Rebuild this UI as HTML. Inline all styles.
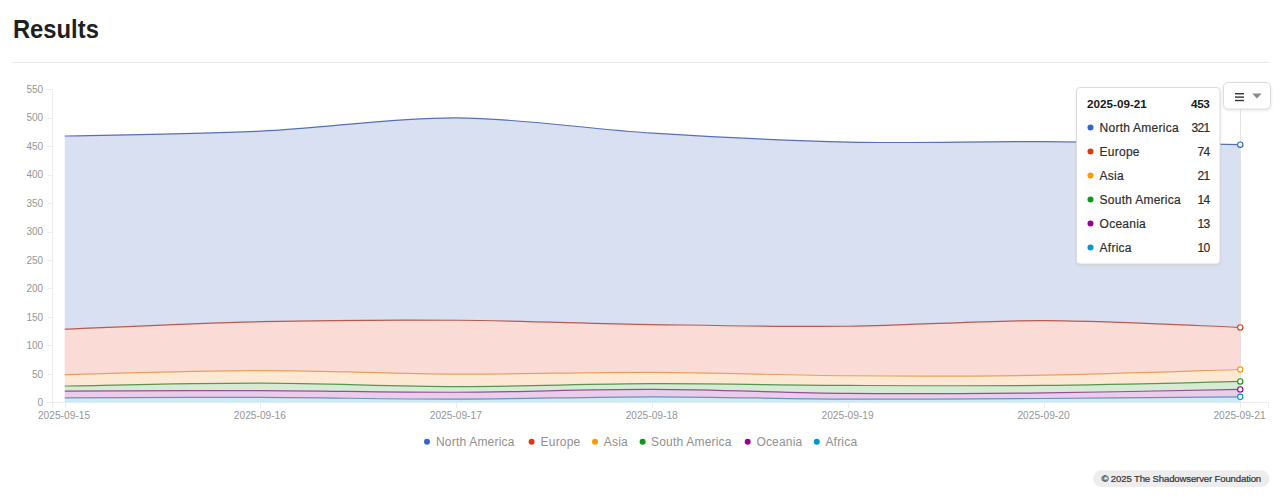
<!DOCTYPE html>
<html lang="en">
<head>
<meta charset="utf-8">
<title>Results</title>
<style>
html,body{margin:0;padding:0;background:#fff;}
body{width:1288px;height:499px;overflow:hidden;position:relative;font-family:"Liberation Sans",Arial,sans-serif;}
svg{position:absolute;left:0;top:0;display:block;}
.yl{font-size:10px;fill:#969696;text-anchor:end;}
.xl{font-size:10.2px;fill:#969696;text-anchor:middle;}
.lg{font-size:12px;fill:#909090;letter-spacing:0.2px;}
.tt{font-size:12px;fill:#2e2e2e;stroke:#2e2e2e;stroke-width:0.2px;letter-spacing:0.25px;}
.tv{font-size:12px;fill:#2e2e2e;stroke:#2e2e2e;stroke-width:0.2px;text-anchor:end;letter-spacing:-0.6px;}
.th{font-size:11.7px;fill:#1a1a1a;font-weight:bold;}
</style>
</head>
<body>
<svg width="1288" height="499" viewBox="0 0 1288 499">
<text x="12.9" y="38" font-size="25" font-weight="bold" fill="#1f1f1f" textLength="86" lengthAdjust="spacingAndGlyphs">Results</text>
<rect x="12" y="62" width="1257" height="1" fill="#ebebeb"/>
<line x1="52.5" y1="89" x2="52.5" y2="408" stroke="#ededed" stroke-width="1"/>
<line x1="47.5" y1="402.5" x2="52.5" y2="402.5" stroke="#ededed"/>
<text x="43.1" y="405.95" class="yl">0</text>
<line x1="47.5" y1="374.5" x2="52.5" y2="374.5" stroke="#ededed"/>
<text x="43.1" y="377.50" class="yl">50</text>
<line x1="47.5" y1="345.5" x2="52.5" y2="345.5" stroke="#ededed"/>
<text x="43.1" y="349.04" class="yl">100</text>
<line x1="47.5" y1="317.5" x2="52.5" y2="317.5" stroke="#ededed"/>
<text x="43.1" y="320.59" class="yl">150</text>
<line x1="47.5" y1="288.5" x2="52.5" y2="288.5" stroke="#ededed"/>
<text x="43.1" y="292.13" class="yl">200</text>
<line x1="47.5" y1="260.5" x2="52.5" y2="260.5" stroke="#ededed"/>
<text x="43.1" y="263.68" class="yl">250</text>
<line x1="47.5" y1="232.5" x2="52.5" y2="232.5" stroke="#ededed"/>
<text x="43.1" y="235.22" class="yl">300</text>
<line x1="47.5" y1="203.5" x2="52.5" y2="203.5" stroke="#ededed"/>
<text x="43.1" y="206.77" class="yl">350</text>
<line x1="47.5" y1="175.5" x2="52.5" y2="175.5" stroke="#ededed"/>
<text x="43.1" y="178.31" class="yl">400</text>
<line x1="47.5" y1="146.5" x2="52.5" y2="146.5" stroke="#ededed"/>
<text x="43.1" y="149.86" class="yl">450</text>
<line x1="47.5" y1="118.5" x2="52.5" y2="118.5" stroke="#ededed"/>
<text x="43.1" y="121.40" class="yl">500</text>
<line x1="47.5" y1="89.5" x2="52.5" y2="89.5" stroke="#ededed"/>
<text x="43.1" y="92.95" class="yl">550</text>
<line x1="52.5" y1="402.5" x2="1268.5" y2="402.5" stroke="#ededed"/>
<line x1="52.5" y1="402.5" x2="52.5" y2="408" stroke="#ededed"/>
<line x1="65.5" y1="402.5" x2="65.5" y2="408" stroke="#ededed"/>
<line x1="260.5" y1="402.5" x2="260.5" y2="408" stroke="#ededed"/>
<line x1="456.5" y1="402.5" x2="456.5" y2="408" stroke="#ededed"/>
<line x1="652.5" y1="402.5" x2="652.5" y2="408" stroke="#ededed"/>
<line x1="848.5" y1="402.5" x2="848.5" y2="408" stroke="#ededed"/>
<line x1="1044.5" y1="402.5" x2="1044.5" y2="408" stroke="#ededed"/>
<line x1="1240.5" y1="402.5" x2="1240.5" y2="408" stroke="#ededed"/>
<line x1="1268.5" y1="402.5" x2="1268.5" y2="408" stroke="#ededed"/>
<text x="64.0" y="418.8" class="xl">2025-09-15</text>
<text x="259.9" y="418.8" class="xl">2025-09-16</text>
<text x="455.8" y="418.8" class="xl">2025-09-17</text>
<text x="651.7" y="418.8" class="xl">2025-09-18</text>
<text x="847.6" y="418.8" class="xl">2025-09-19</text>
<text x="1043.5" y="418.8" class="xl">2025-09-20</text>
<text x="1239.5" y="418.8" class="xl">2025-09-21</text>
<line x1="1240.5" y1="89" x2="1240.5" y2="402" stroke="#e3e3e3"/>
<path d="M64.75 397.95C97.40 397.85 195.36 397.19 260.67 397.38C325.98 397.57 391.28 399.18 456.59 399.09C521.90 398.99 587.20 396.81 652.51 396.81C717.82 396.81 783.12 398.80 848.43 399.09C913.74 399.37 979.04 398.90 1044.35 398.52C1109.66 398.14 1207.62 397.09 1240.27 396.81L1240.27 402.50L64.75 402.50Z" fill="#ceebf4" stroke="none"/>
<path d="M64.75 391.12C97.40 391.02 195.36 390.36 260.67 390.55C325.98 390.74 391.28 392.45 456.59 392.26C521.90 392.07 587.20 389.22 652.51 389.41C717.82 389.60 783.12 392.83 848.43 393.39C913.74 393.96 979.04 393.49 1044.35 392.83C1109.66 392.16 1207.62 389.98 1240.27 389.41L1240.27 396.81C1207.62 397.09 1109.66 398.14 1044.35 398.52C979.04 398.90 913.74 399.37 848.43 399.09C783.12 398.80 717.82 396.81 652.51 396.81C587.20 396.81 521.90 398.99 456.59 399.09C391.28 399.18 325.98 397.57 260.67 397.38C195.36 397.19 97.40 397.85 64.75 397.95Z" fill="#ebcdeb" stroke="none"/>
<path d="M64.75 386.00C97.40 385.52 195.36 383.06 260.67 383.15C325.98 383.25 391.28 386.47 456.59 386.57C521.90 386.66 587.20 383.91 652.51 383.72C717.82 383.53 783.12 385.14 848.43 385.43C913.74 385.71 979.04 386.09 1044.35 385.43C1109.66 384.76 1207.62 382.11 1240.27 381.44L1240.27 389.41C1207.62 389.98 1109.66 392.16 1044.35 392.83C979.04 393.49 913.74 393.96 848.43 393.39C783.12 392.83 717.82 389.60 652.51 389.41C587.20 389.22 521.90 392.07 456.59 392.26C391.28 392.45 325.98 390.74 260.67 390.55C195.36 390.36 97.40 391.02 64.75 391.12Z" fill="#d6ebd4" stroke="none"/>
<path d="M64.75 374.61C97.40 373.95 195.36 370.73 260.67 370.63C325.98 370.54 391.28 373.76 456.59 374.05C521.90 374.33 587.20 372.05 652.51 372.34C717.82 372.62 783.12 375.28 848.43 375.75C913.74 376.23 979.04 376.23 1044.35 375.18C1109.66 374.14 1207.62 370.44 1240.27 369.49L1240.27 381.44C1207.62 382.11 1109.66 384.76 1044.35 385.43C979.04 386.09 913.74 385.71 848.43 385.43C783.12 385.14 717.82 383.53 652.51 383.72C587.20 383.91 521.90 386.66 456.59 386.57C391.28 386.47 325.98 383.25 260.67 383.15C195.36 383.06 97.40 385.52 64.75 386.00Z" fill="#fde9d3" stroke="none"/>
<path d="M64.75 329.09C97.40 327.85 195.36 323.16 260.67 321.69C325.98 320.22 391.28 319.79 456.59 320.27C521.90 320.74 587.20 323.54 652.51 324.53C717.82 325.53 783.12 326.91 848.43 326.24C913.74 325.58 979.04 320.36 1044.35 320.55C1109.66 320.74 1207.62 326.24 1240.27 327.38L1240.27 369.49C1207.62 370.44 1109.66 374.14 1044.35 375.18C979.04 376.23 913.74 376.23 848.43 375.75C783.12 375.28 717.82 372.62 652.51 372.34C587.20 372.05 521.90 374.33 456.59 374.05C391.28 373.76 325.98 370.54 260.67 370.63C195.36 370.73 97.40 373.95 64.75 374.61Z" fill="#fbdbd5" stroke="none"/>
<path d="M64.75 135.99C97.40 135.19 195.36 134.17 260.67 131.16C325.98 128.14 391.28 117.57 456.59 117.90C521.90 118.23 587.20 129.12 652.51 133.15C717.82 137.18 783.12 140.67 848.43 142.08C913.74 143.50 979.04 141.19 1044.35 141.63C1109.66 142.07 1207.62 144.19 1240.27 144.70L1240.27 327.38C1207.62 326.24 1109.66 320.74 1044.35 320.55C979.04 320.36 913.74 325.58 848.43 326.24C783.12 326.91 717.82 325.53 652.51 324.53C587.20 323.54 521.90 320.74 456.59 320.27C391.28 319.79 325.98 320.22 260.67 321.69C195.36 323.16 97.40 327.85 64.75 329.09Z" fill="#d8e0f2" stroke="none"/>
<path d="M64.75 397.95C97.40 397.85 195.36 397.19 260.67 397.38C325.98 397.57 391.28 399.18 456.59 399.09C521.90 398.99 587.20 396.81 652.51 396.81C717.82 396.81 783.12 398.80 848.43 399.09C913.74 399.37 979.04 398.90 1044.35 398.52C1109.66 398.14 1207.62 397.09 1240.27 396.81" fill="none" stroke="#6692bc" stroke-width="1.2"/>
<path d="M64.75 391.12C97.40 391.02 195.36 390.36 260.67 390.55C325.98 390.74 391.28 392.45 456.59 392.26C521.90 392.07 587.20 389.22 652.51 389.41C717.82 389.60 783.12 392.83 848.43 393.39C913.74 393.96 979.04 393.49 1044.35 392.83C1109.66 392.16 1207.62 389.98 1240.27 389.41" fill="none" stroke="#944f96" stroke-width="1.2"/>
<path d="M64.75 386.00C97.40 385.52 195.36 383.06 260.67 383.15C325.98 383.25 391.28 386.47 456.59 386.57C521.90 386.66 587.20 383.91 652.51 383.72C717.82 383.53 783.12 385.14 848.43 385.43C913.74 385.71 979.04 386.09 1044.35 385.43C1109.66 384.76 1207.62 382.11 1240.27 381.44" fill="none" stroke="#589455" stroke-width="1.2"/>
<path d="M64.75 374.61C97.40 373.95 195.36 370.73 260.67 370.63C325.98 370.54 391.28 373.76 456.59 374.05C521.90 374.33 587.20 372.05 652.51 372.34C717.82 372.62 783.12 375.28 848.43 375.75C913.74 376.23 979.04 376.23 1044.35 375.18C1109.66 374.14 1207.62 370.44 1240.27 369.49" fill="none" stroke="#e8a05e" stroke-width="1.2"/>
<path d="M64.75 329.09C97.40 327.85 195.36 323.16 260.67 321.69C325.98 320.22 391.28 319.79 456.59 320.27C521.90 320.74 587.20 323.54 652.51 324.53C717.82 325.53 783.12 326.91 848.43 326.24C913.74 325.58 979.04 320.36 1044.35 320.55C1109.66 320.74 1207.62 326.24 1240.27 327.38" fill="none" stroke="#b85a4e" stroke-width="1.2"/>
<path d="M64.75 135.99C97.40 135.19 195.36 134.17 260.67 131.16C325.98 128.14 391.28 117.57 456.59 117.90C521.90 118.23 587.20 129.12 652.51 133.15C717.82 137.18 783.12 140.67 848.43 142.08C913.74 143.50 979.04 141.19 1044.35 141.63C1109.66 142.07 1207.62 144.19 1240.27 144.70" fill="none" stroke="#5570b4" stroke-width="1.2"/>
<circle cx="1240.27" cy="396.81" r="2.65" fill="#fff" stroke="#0099c6" stroke-width="1.1"/>
<circle cx="1240.27" cy="389.41" r="2.65" fill="#fff" stroke="#990099" stroke-width="1.1"/>
<circle cx="1240.27" cy="381.44" r="2.65" fill="#fff" stroke="#109618" stroke-width="1.1"/>
<circle cx="1240.27" cy="369.49" r="2.65" fill="#fff" stroke="#ff9900" stroke-width="1.1"/>
<circle cx="1240.27" cy="327.38" r="2.65" fill="#fff" stroke="#dc3912" stroke-width="1.1"/>
<circle cx="1240.27" cy="144.70" r="2.65" fill="#fff" stroke="#3366cc" stroke-width="1.1"/>
<g class="legend">
<circle cx="427" cy="441.8" r="3" fill="#3366cc"/><text x="436" y="446.2" class="lg">North America</text>
<circle cx="531.6" cy="441.8" r="3" fill="#dc3912"/><text x="540.6" y="446.2" class="lg">Europe</text>
<circle cx="595" cy="441.8" r="3" fill="#ff9900"/><text x="603.8" y="446.2" class="lg">Asia</text>
<circle cx="642.6" cy="441.8" r="3" fill="#109618"/><text x="651" y="446.2" class="lg">South America</text>
<circle cx="747.7" cy="441.8" r="3" fill="#990099"/><text x="756.4" y="446.2" class="lg">Oceania</text>
<circle cx="816.8" cy="441.8" r="3" fill="#0099c6"/><text x="825.4" y="446.2" class="lg">Africa</text>
</g>
<g class="tooltip">
<rect x="1076.5" y="87.5" width="143.5" height="176.5" rx="3.5" fill="#fff" stroke="#dadada" stroke-width="1" style="filter:drop-shadow(0 1px 1px rgba(0,0,0,0.08))"/>
<text x="1087" y="108.3" class="th">2025-09-21</text><text x="1209.4" y="108.3" class="th" text-anchor="end" style="letter-spacing:-0.4px">453</text>
<circle cx="1090.5" cy="127.5" r="3" fill="#3366cc"/><text x="1099.6" y="131.7" class="tt">North America</text><text x="1209.7" y="131.7" class="tv">321</text>
<circle cx="1090.5" cy="151.5" r="3" fill="#dc3912"/><text x="1099.6" y="155.7" class="tt">Europe</text><text x="1209.7" y="155.7" class="tv">74</text>
<circle cx="1090.5" cy="175.5" r="3" fill="#ff9900"/><text x="1099.6" y="179.7" class="tt">Asia</text><text x="1209.7" y="179.7" class="tv">21</text>
<circle cx="1090.5" cy="199.5" r="3" fill="#109618"/><text x="1099.6" y="203.7" class="tt">South America</text><text x="1209.7" y="203.7" class="tv">14</text>
<circle cx="1090.5" cy="223.5" r="3" fill="#990099"/><text x="1099.6" y="227.7" class="tt">Oceania</text><text x="1209.7" y="227.7" class="tv">13</text>
<circle cx="1090.5" cy="247.5" r="3" fill="#0099c6"/><text x="1099.6" y="251.7" class="tt">Africa</text><text x="1209.7" y="251.7" class="tv">10</text>
</g>
<g class="menu">
<rect x="1223.5" y="82.5" width="47" height="26.5" rx="4.5" fill="#fff" stroke="#dcdcdc" stroke-width="1" style="filter:drop-shadow(0 1px 1.5px rgba(0,0,0,0.10))"/>
<rect x="1235" y="93" width="9" height="1.4" fill="#333"/>
<rect x="1235" y="96.4" width="9" height="1.4" fill="#333"/>
<rect x="1235" y="99.8" width="9" height="1.4" fill="#333"/>
<path d="M1252.3 93.6 L1261.6 93.6 L1256.9 98.4 Z" fill="#8a8a8a"/>
</g>
<g class="footer">
<rect x="1093.2" y="470.2" width="176.2" height="16.8" rx="8.4" fill="#ededed"/>
<text x="1101.4" y="482" font-size="9.6" fill="#333" stroke="#333" stroke-width="0.2" textLength="159.8" lengthAdjust="spacing">© 2025 The Shadowserver Foundation</text>
</g>
</svg>
</body>
</html>
